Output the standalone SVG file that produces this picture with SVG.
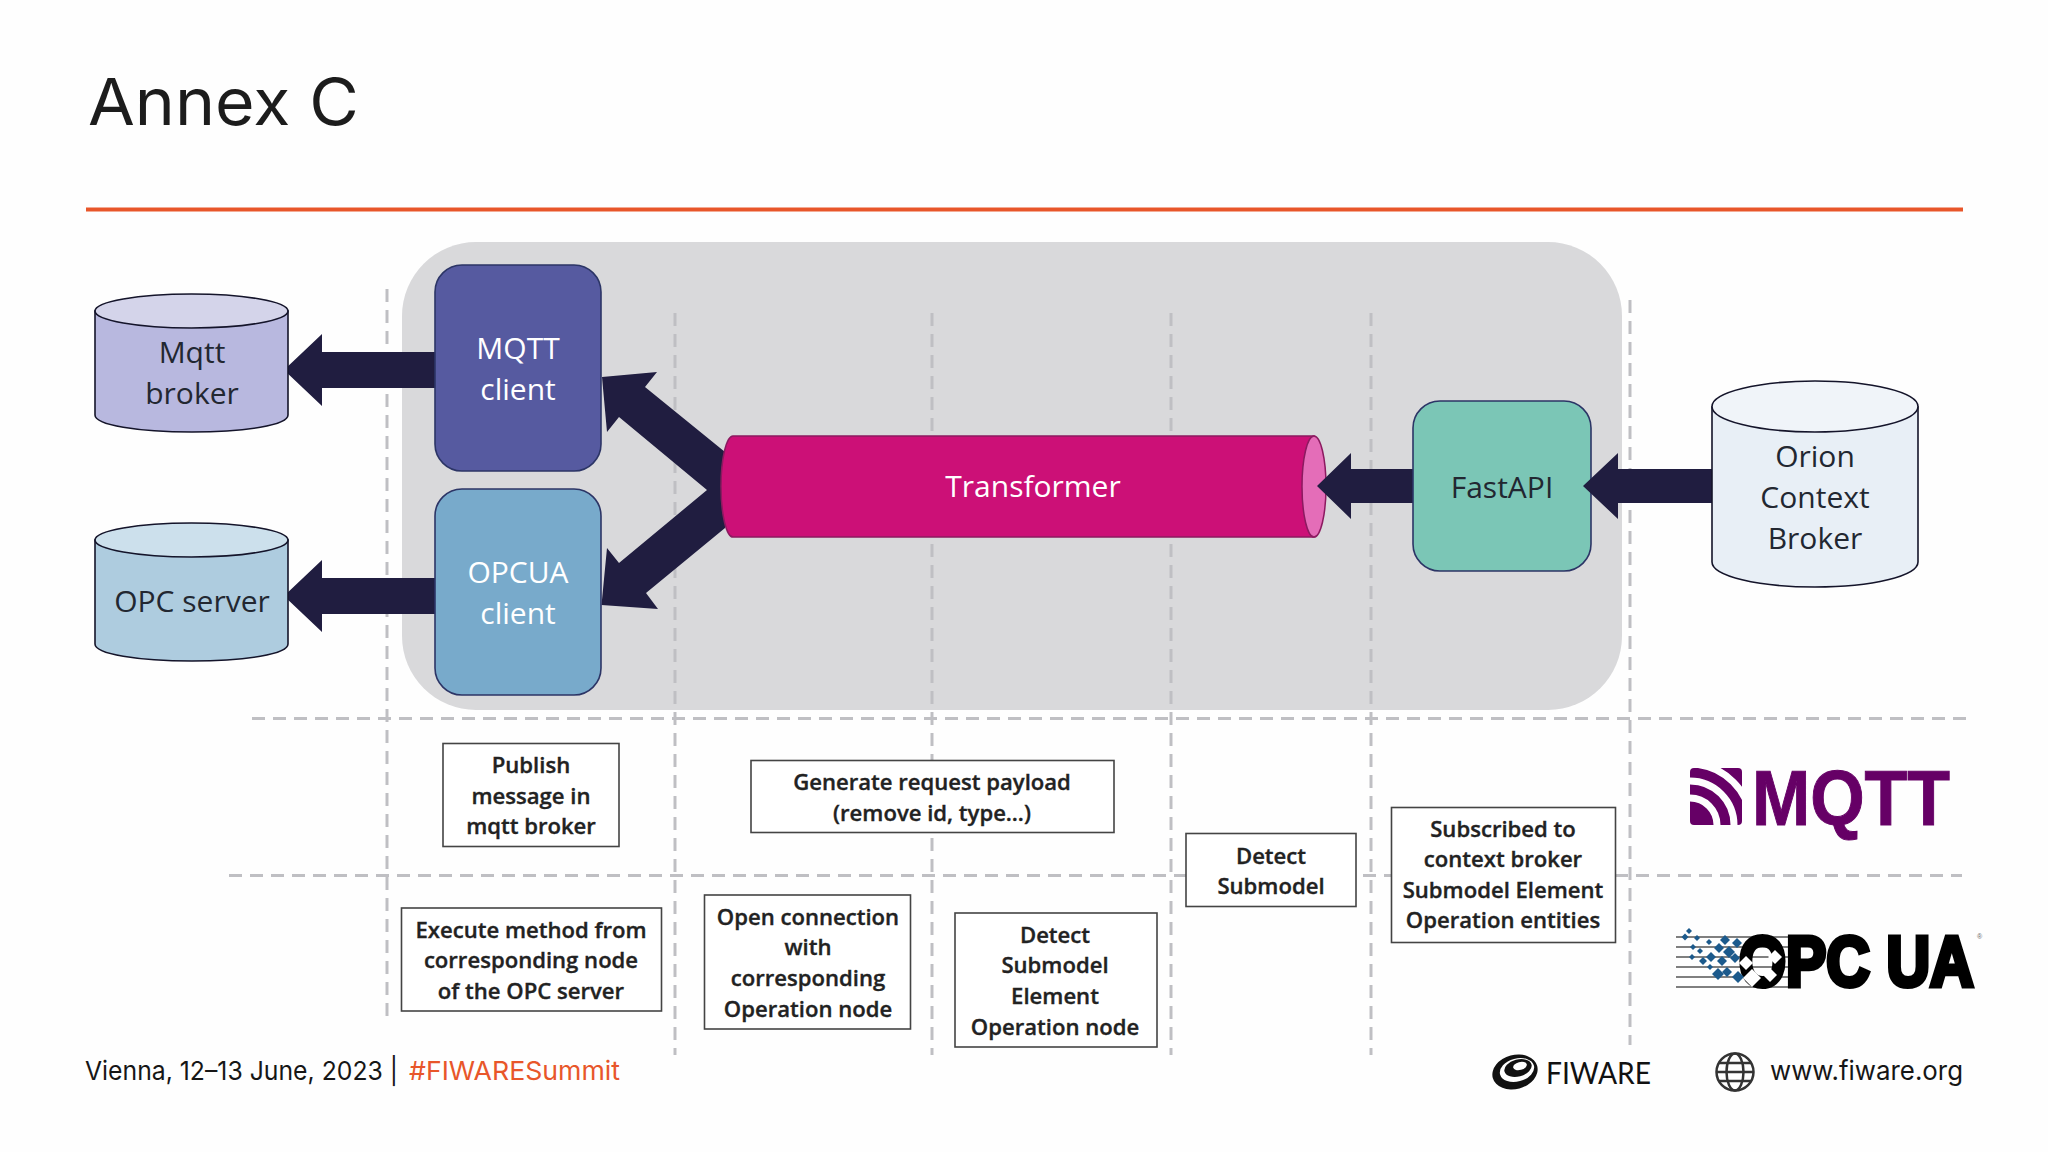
<svg xmlns="http://www.w3.org/2000/svg" width="2048" height="1152" viewBox="0 0 2048 1152">
<style>
.g{fill:none;stroke:#bfbfc3;stroke-width:3;stroke-dasharray:13 8}
.n{font-family:"Open Sans","Noto Sans",sans-serif;font-size:30px;text-anchor:middle;fill:#222731}
.b{font-family:"Open Sans","Noto Sans",sans-serif;font-size:22.100px;font-weight:600;text-anchor:middle;fill:#222;stroke:#222;stroke-width:.35}
.box{fill:#fff;stroke:#444;stroke-width:1.6}
.node{stroke:#2c3566;stroke-width:1.6}
.cyl{stroke:#14142a;stroke-width:1.6}
.arr{fill:#201d40}
.foot{font-family:"Inter","Lato",sans-serif;fill:#161616}
</style>
<defs>
<path id="dia" d="M0-1 1 0 0 1-1 0Z"/>
<clipPath id="mq"><rect x="1690" y="768" width="52" height="57" rx="4"/></clipPath>
</defs>
<rect width="2048" height="1152" fill="#fefefe"/>
<text id="title" x="88" y="125" textLength="271" lengthAdjust="spacingAndGlyphs" style="font-family:Inter,sans-serif;font-size:65px;fill:#1c1c1c">Annex C</text>
<rect x="86" y="207.500" width="1877" height="4" fill="#e8562a"/>
<rect id="panel" x="402" y="242" width="1220" height="468" rx="74" fill="#d9d9db"/>
<g id="guides">
<path class="g" d="M387 289V1022M675 313V1055M932 313V1055M1171 313V1055M1371 313V1055M1630 300V1045"/>
<path class="g" d="M252 718.500H1968M229 875.500H1962"/>
</g>
<g id="connectors">
<path class="arr" d="M284 370 322 334V352H436V388H322V406Z"/>
<path class="arr" d="M284 596 322 560V578H436V614H322V632Z"/>
<path class="arr" d="M602 377 657 372 645 387 725 452V528L646 593 658 609 601.500 605 607 548 619 563 707 490 619 417 607 432Z"/>
</g>
<g id="mqtt-broker">
<path class="cyl" fill="#b8b8df" d="M95 311V415C95 425 138 432 192 432S288 425 288 415V311Z"/>
<ellipse class="cyl" cx="191.500" cy="311" rx="96.500" ry="17" fill="#d4d4ea"/>
<text class="n" x="192" y="363">Mqtt</text><text class="n" x="192" y="404">broker</text>
</g>
<g id="opc-server">
<path class="cyl" fill="#aeccdf" d="M95 540V644C95 654 138 661 192 661S288 654 288 644V540Z"/>
<ellipse class="cyl" cx="191.500" cy="540" rx="96.500" ry="17" fill="#cce0ec"/>
<text class="n" x="192" y="612">OPC server</text>
</g>
<g id="mqtt-client">
<rect class="node" x="435" y="265" width="166" height="206" rx="27" fill="#565aa0"/>
<text class="n" x="518" y="359" style="fill:#fff">MQTT</text><text class="n" x="518" y="400" style="fill:#fff">client</text>
</g>
<g id="opcua-client">
<rect class="node" x="435" y="489" width="166" height="206" rx="27" fill="#78aacb"/>
<text class="n" x="518" y="583" style="fill:#fff">OPCUA</text><text class="n" x="518" y="624" style="fill:#fff">client</text>
</g>
<g id="transformer">
<path d="M1314 436H733A12 50.500 0 0 0 733 537H1314Z" fill="#cc1077" stroke="#8c1a60" stroke-width="1.500"/>
<ellipse cx="1314" cy="486.500" rx="12" ry="50.500" fill="#e46db8" stroke="#8c1a60" stroke-width="1.500"/>
<text class="n" x="1033" y="497" style="fill:#fff">Transformer</text>
</g>
<path class="arr" d="M1317 486 1351 453V469H1417V503H1351V519Z"/>
<g id="fastapi">
<rect class="node" x="1413" y="401" width="178" height="170" rx="27" fill="#7bc6b6"/>
<text class="n" x="1502" y="498">FastAPI</text>
</g>
<path class="arr" d="M1583 486 1618 453V469H1715V503H1618V519Z"/>
<g id="orion">
<path class="cyl" fill="#e8eff6" d="M1712 407V562C1712 576 1758 587 1815 587S1918 576 1918 562V407Z"/>
<ellipse class="cyl" cx="1815" cy="406.500" rx="103" ry="25.500" fill="#f0f4f9"/>
<text class="n" x="1815" y="467">Orion</text><text class="n" x="1815" y="508">Context</text><text class="n" x="1815" y="549">Broker</text>
</g>
<g id="box-publish"><rect class="box" x="443" y="743.500" width="176" height="103"/>
<text class="b" x="531" y="772.500">Publish</text><text class="b" x="531" y="803.500">message in</text><text class="b" x="531" y="834">mqtt broker</text></g>
<g id="box-generate"><rect class="box" x="751" y="760.500" width="363" height="72"/>
<text class="b" x="932" y="789.500">Generate request payload</text><text class="b" x="932" y="820.500">(remove id, type…)</text></g>
<g id="box-execute"><rect class="box" x="401.500" y="908" width="260" height="103"/>
<text class="b" x="531" y="937.500">Execute method from</text><text class="b" x="531" y="968">corresponding node</text><text class="b" x="531" y="999">of the OPC server</text></g>
<g id="box-open"><rect class="box" x="704.500" y="895" width="206" height="134"/>
<text class="b" x="808" y="924.500">Open connection</text><text class="b" x="808" y="955">with</text><text class="b" x="808" y="986">corresponding</text><text class="b" x="808" y="1017">Operation node</text></g>
<g id="box-detect-element"><rect class="box" x="955" y="913" width="202" height="134"/>
<text class="b" x="1055" y="942.500">Detect</text><text class="b" x="1055" y="973">Submodel</text><text class="b" x="1055" y="1004">Element</text><text class="b" x="1055" y="1035">Operation node</text></g>
<g id="box-detect-submodel"><rect class="box" x="1186" y="833.500" width="170" height="73"/>
<text class="b" x="1271" y="863.500">Detect</text><text class="b" x="1271" y="893.500">Submodel</text></g>
<g id="box-subscribed"><rect class="box" x="1391.500" y="807.500" width="224" height="135"/>
<text class="b" x="1503" y="836.500">Subscribed to</text><text class="b" x="1503" y="867">context broker</text><text class="b" x="1503" y="897.500">Submodel Element</text><text class="b" x="1503" y="928">Operation entities</text></g>
<g id="logo-mqtt">
<g clip-path="url(#mq)"><rect x="1690" y="768" width="52" height="57" fill="#660066"/>
<g fill="none" stroke="#fefefe" stroke-width="7"><circle cx="1690" cy="825" r="27"/><circle cx="1690" cy="825" r="44"/><circle cx="1690" cy="825" r="61"/></g></g>
<text x="1752" y="825" textLength="198" lengthAdjust="spacingAndGlyphs" style="font-family:'Liberation Sans',sans-serif;font-weight:700;font-size:77px;fill:#660066;stroke:#660066;stroke-width:1">MQTT</text>
</g>
<g id="logo-opcua">
<path d="M1676 937H1790M1676 947H1790M1676 957H1790M1676 967H1790M1676 977H1790M1676 987H1790" stroke="#555" stroke-width="1.500"/>
<text transform="translate(1739 986) scale(.85 1)" style="font-family:'Liberation Sans',sans-serif;font-weight:700;font-size:71px;fill:#000;stroke:#000;stroke-width:5">OPC UA</text>
<text x="1977" y="939" style="font-family:'Liberation Sans',sans-serif;font-size:7px;fill:#666">®</text>
<g fill="#1c5a8c">
<use href="#dia" transform="translate(1689 931) scale(3)"/><use href="#dia" transform="translate(1685 937) scale(3.500)"/><use href="#dia" transform="translate(1697 938) scale(3)"/><use href="#dia" transform="translate(1709 942) scale(3)"/><use href="#dia" transform="translate(1725 940) scale(5)"/><use href="#dia" transform="translate(1737 943) scale(5)"/><use href="#dia" transform="translate(1693 947) scale(3)"/><use href="#dia" transform="translate(1700 951) scale(3)"/><use href="#dia" transform="translate(1719 948) scale(5)"/><use href="#dia" transform="translate(1729 952) scale(6)"/><use href="#dia" transform="translate(1692 957) scale(3)"/><use href="#dia" transform="translate(1711 957) scale(5)"/><use href="#dia" transform="translate(1703 961) scale(4)"/><use href="#dia" transform="translate(1722 961) scale(5)"/><use href="#dia" transform="translate(1735 958) scale(5)"/><use href="#dia" transform="translate(1710 967) scale(3)"/><use href="#dia" transform="translate(1727 972) scale(5)"/><use href="#dia" transform="translate(1718 974) scale(6)"/><use href="#dia" transform="translate(1738 977) scale(6)"/>
</g>
<g fill="#fff"><use href="#dia" transform="translate(1746 963) scale(7)"/><use href="#dia" transform="translate(1775 957) scale(7)"/><use href="#dia" transform="translate(1752 978) scale(9)"/><use href="#dia" transform="translate(1770 975) scale(7)"/></g>
</g>
<g id="footer">
<text class="foot" x="85" y="1080" textLength="313" lengthAdjust="spacingAndGlyphs" style="font-size:26px">Vienna, 12–13 June, 2023 |</text>
<text class="foot" x="409" y="1080" textLength="211" lengthAdjust="spacingAndGlyphs" style="font-size:26px;fill:#e8562a">#FIWARESummit</text>
<g id="logo-fiware">
<ellipse cx="1515" cy="1072" rx="23" ry="17" transform="rotate(-15 1515 1072)" fill="#111"/>
<ellipse cx="1517" cy="1070" rx="17.500" ry="11.500" transform="rotate(-15 1517 1070)" fill="#fefefe"/>
<ellipse cx="1518" cy="1068" rx="14" ry="8.500" transform="rotate(-15 1518 1068)" fill="#111"/>
<ellipse cx="1520" cy="1066" rx="7" ry="4" transform="rotate(-15 1520 1066)" fill="#fefefe"/>
<text x="1546" y="1084" textLength="105" lengthAdjust="spacingAndGlyphs" style="font-family:Lato,sans-serif;font-size:30px;fill:#111">FIWARE</text>
</g>
<g id="globe" fill="none" stroke="#333" stroke-width="2.500"><circle cx="1735" cy="1072" r="18.500"/><ellipse cx="1735" cy="1072" rx="8.500" ry="18.500"/><path d="M1716.500 1072H1753.500M1719 1063H1751M1719 1081H1751"/></g>
<text class="foot" x="1770" y="1080" textLength="193" lengthAdjust="spacingAndGlyphs" style="font-size:26px">www.fiware.org</text>
</g>
</svg>
